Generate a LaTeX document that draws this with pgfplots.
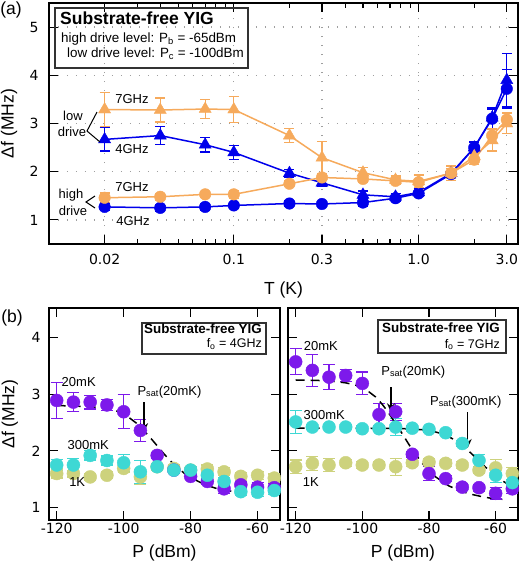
\documentclass[border=0pt]{standalone}
\usepackage{fontspec}
\setmainfont{Liberation Sans}
\newfontfamily\tickfont{DejaVu Sans}
\usepackage{pgfplots}
\pgfplotsset{compat=1.18}
\usetikzlibrary{arrows.meta}

\definecolor{cOrange}{RGB}{246,170,92}
\definecolor{cBlue}{RGB}{0,0,235}
\definecolor{cPurple}{RGB}{125,25,235}
\definecolor{cCyan}{RGB}{62,216,212}
\definecolor{cOlive}{RGB}{205,210,125}
\definecolor{cBox}{RGB}{50,50,50}

\newcommand{\fs}[1]{\fontsize{#1}{#1}\selectfont}

\pgfplotsset{
  panel/.style={
    scale only axis,
    axis line style={line width=2pt},
    tick align=inside,
    every tick/.style={line width=1.1pt, black},
    major tick length=9pt,
    minor tick length=5pt,
    tick label style={font=\tickfont\fs{14}},
    /pgf/number format/assume math mode=true,
    label style={font=\fs{17.5}},
    clip=false,
  },
  series/.style n args={4}{
    color=#1, mark=#2, line width=1.5pt,
    mark size=#3,
    mark options={solid, fill=#1, draw=#1, line width=0.4pt},
    error bars/y dir=both, error bars/y explicit,
    error bars/error bar style={line width=1.2pt, color=#1},
    error bars/error mark options={rotate=90, line width=1.2pt, mark size=#4, color=#1},
  },
  fitline/.style={black, line width=1.5pt, dash pattern=on 9pt off 6pt, no marks},
}
\tikzset{note/.style={font=\fs{13}, inner sep=0pt}}

\begin{document}
\begin{tikzpicture}
\useasboundingbox (0pt,0pt) rectangle (520pt,-571pt);

% ---------------- (a) linewidth versus temperature ----------------
\begin{axis}[panel,
  at={(49pt,-244pt)}, anchor=south west,
  width=469pt, height=241pt,
  xmode=log, xmin=0.01, xmax=3.45, ymin=0.5, ymax=5.5,
  xtick={0.02,0.1,0.3,1,3}, xticklabels={0.02,0.1,0.3,1.0,3.0},
  minor xtick={0.03,0.04,0.05,0.06,0.07,0.08,0.09,0.2,0.4,0.5,0.6,0.7,0.8,0.9,2},
  ytick={1,2,3,4,5},
  xticklabel style={yshift=-7pt},
  yticklabel style={xshift=-7pt},
  xmajorgrids, ymajorgrids,
  grid style={dash pattern=on 1.5pt off 7.5pt, line width=1.3pt, gray!75},
  xlabel={T (K)}, ylabel={Δf (MHz)},
  x label style={at={(axis description cs:0.5,-0.19)}, anchor=center},
  y label style={at={(axis description cs:-0.085,0.5)}, anchor=center},
]
% 4 GHz, low drive
\addplot[series={cBlue}{triangle*}{7pt}{5pt}] table[x index=0, y index=1, y error index=2] {
T v e
0.02 2.67 0.24
0.04 2.75 0.18
0.07 2.56 0.15
0.1 2.40 0.15
0.2 1.97 0.08
0.3 1.77 0.08
0.5 1.52 0.08
0.75 1.48 0.06
1.0 1.57 0.08
1.5 1.97 0.10
2.0 2.50 0.12
2.5 3.12 0.22
3.0 3.90 0.55
};
% 4 GHz, high drive
\addplot[series={cBlue}{*}{5.8pt}{5pt}] table[x index=0, y index=1, y error index=2] {
T v e
0.02 1.27 0.07
0.04 1.25 0.07
0.07 1.27 0.07
0.1 1.30 0.06
0.2 1.34 0.06
0.3 1.33 0.06
0.5 1.36 0.07
0.75 1.45 0.06
1.0 1.55 0.06
1.5 1.95 0.08
2.0 2.50 0.10
2.5 3.10 0.20
3.0 3.72 0.40
};
% 7 GHz, low drive
\addplot[series={cOrange}{triangle*}{7pt}{5pt}] table[x index=0, y index=1, y error index=2] {
T v e
0.02 3.29 0.36
0.04 3.28 0.25
0.07 3.30 0.20
0.1 3.29 0.27
0.2 2.75 0.15
0.3 2.29 0.33
0.5 1.98 0.10
0.75 1.83 0.08
1.0 1.80 0.12
1.5 1.97 0.15
2.0 2.32 0.12
2.5 2.65 0.22
3.0 3.00 0.20
};
% 7 GHz, high drive
\addplot[series={cOrange}{*}{5.8pt}{5pt}] table[x index=0, y index=1, y error index=2] {
T v e
0.02 1.46 0.10
0.04 1.48 0.07
0.07 1.53 0.06
0.1 1.53 0.08
0.2 1.75 0.06
0.3 1.88 0.07
0.5 1.85 0.08
0.75 1.81 0.07
1.0 1.78 0.15
1.5 1.97 0.10
2.0 2.25 0.10
2.5 2.75 0.15
3.0 3.08 0.15
};
\end{axis}

% legend box and curve labels of (a)
\draw[cBox, line width=2pt] (55pt,-8pt) rectangle (248pt,-68pt);
\node[anchor=base west, inner sep=0pt, font=\bfseries\fs{17.5}] at (60pt,-24.5pt) {Substrate-free YIG};
\node[anchor=base west, inner sep=0pt, font=\fs{13.4}] at (61pt,-42pt) {high drive level: P\textsubscript{b} = -65dBm};
\node[anchor=base west, inner sep=0pt, font=\fs{13.4}] at (67pt,-57.5pt) {low drive level: P\textsubscript{c} = -100dBm};

\node[note, anchor=base] at (132pt,-103.3pt) {7GHz};
\node[note, anchor=base] at (73pt,-120pt) {low};
\node[note, anchor=base] at (72pt,-136.7pt) {drive};
\draw[line width=1pt] (97pt,-112pt) -- (87pt,-131pt) -- (100pt,-142pt);
\node[note, anchor=base] at (132pt,-153.3pt) {4GHz};
\node[note, anchor=base] at (132pt,-191.7pt) {7GHz};
\node[note, anchor=base] at (71pt,-198.5pt) {high};
\node[note, anchor=base] at (73pt,-215pt) {drive};
\draw[line width=1pt] (95pt,-196pt) -- (86pt,-202pt) -- (95pt,-208pt);
\node[note, anchor=base] at (133pt,-225pt) {4GHz};

\node[font=\fs{17.5}, inner sep=0pt] at (11pt,-10pt) {(a)};
\node[font=\fs{17.5}, inner sep=0pt] at (12pt,-318pt) {(b)};

% ---------------- (b) left: 4 GHz ----------------
\begin{axis}[panel,
  at={(49pt,-520pt)}, anchor=south west,
  width=231pt, height=212pt,
  xmin=-122.3, xmax=-53.3, ymin=0.78, ymax=4.52,
  xtick={-120,-100,-80,-60}, xticklabels={-120,-100,-80,-60},
  ytick={1,2,3,4},
  yticklabel style={xshift=-5pt},
  xlabel={P (dBm)}, ylabel={Δf (MHz)},
  x label style={at={(axis description cs:0.5,-0.156)}, anchor=center},
  y label style={at={(axis description cs:-0.169,0.5)}, anchor=center},
]
% 1 K
\addplot[series={cOlive}{*}{6.5pt}{6pt}, only marks] table[x index=0, y index=1, y error index=2] {
P v e
-120 1.60 0.08
-115 1.60 0.06
-110 1.54 0.06
-105 1.57 0.06
-100 1.69 0.07
-95 1.54 0.13
-90 1.72 0.06
-85 1.69 0.06
-80 1.66 0.06
-75 1.68 0.07
-70 1.63 0.07
-65 1.55 0.07
-60 1.57 0.07
-55 1.52 0.07
};
% 20 mK
\addplot[series={cPurple}{*}{6.5pt}{6pt}, only marks] table[x index=0, y index=1, y error index=2] {
P v e
-120 2.89 0.32
-115 2.86 0.17
-110 2.86 0.12
-105 2.81 0.10
-100 2.69 0.30
-95 2.36 0.20
-90 1.92 0.05
-85 1.66 0.05
-80 1.55 0.05
-75 1.46 0.05
-70 1.33 0.08
-65 1.40 0.06
-60 1.36 0.08
-55 1.35 0.08
};
% 300 mK
\addplot[series={cCyan}{*}{6.5pt}{6pt}, only marks] table[x index=0, y index=1, y error index=2] {
P v e
-120 1.75 0.10
-115 1.75 0.12
-110 1.92 0.08
-105 1.83 0.08
-100 1.79 0.15
-95 1.63 0.20
-90 1.72 0.05
-85 1.66 0.05
-80 1.66 0.07
-75 1.57 0.07
-70 1.46 0.07
-65 1.28 0.07
-60 1.27 0.07
-55 1.30 0.07
};
% saturation fit, 20 mK
\addplot[fitline] coordinates {
(-120,2.80) (-115,2.79) (-110,2.78) (-105,2.75) (-102,2.70) (-100,2.65)
(-98,2.57) (-96,2.48) (-94,2.36) (-92,2.23) (-90,2.09) (-88,1.95)
(-86,1.82) (-84,1.71) (-82,1.61) (-80,1.53) (-78,1.47) (-76,1.41)
(-74,1.37) (-72,1.33) (-70,1.31) (-67,1.28) (-64,1.25) (-60,1.23)
};
\draw[-{Stealth[length=9pt,width=8pt]}, line width=1.5pt] (axis cs:-93.9,2.86) -- (axis cs:-93.9,2.33);
\end{axis}

\draw[cBox, line width=1.5pt] (142pt,-323pt) rectangle (266pt,-354pt);
\node[anchor=base east, inner sep=0pt, font=\bfseries\fs{13.4}] at (262pt,-333.5pt) {Substrate-free YIG};
\node[anchor=base east, inner sep=0pt, font=\fs{12.5}] at (262pt,-347.5pt) {f\textsubscript{o} = 4GHz};
\node[note, anchor=base] at (78.7pt,-386pt) {20mK};
\node[note, anchor=base] at (169.5pt,-395pt) {P\textsubscript{sat}(20mK)};
\node[note, anchor=base] at (88.3pt,-449.3pt) {300mK};
\node[note, anchor=base] at (77.2pt,-486.7pt) {1K};

% ---------------- (b) right: 7 GHz ----------------
\begin{axis}[panel,
  at={(288pt,-520pt)}, anchor=south west,
  width=230pt, height=212pt,
  xmin=-122.3, xmax=-53.3, ymin=0.78, ymax=4.52,
  xtick={-120,-100,-80,-60}, xticklabels={-120,-100,-80,-60},
  ytick={1,2,3,4}, yticklabels={},
  xlabel={P (dBm)},
  x label style={at={(axis description cs:0.5,-0.156)}, anchor=center},
]
% 1 K
\addplot[series={cOlive}{*}{6.5pt}{6pt}, only marks] table[x index=0, y index=1, y error index=2] {
P v e
-120 1.72 0.12
-115 1.78 0.12
-110 1.75 0.12
-105 1.79 0.06
-100 1.75 0.06
-95 1.75 0.06
-90 1.72 0.15
-85 1.79 0.06
-80 1.80 0.06
-75 1.78 0.06
-70 1.75 0.06
-65 1.66 0.06
-60 1.70 0.15
-55 1.60 0.10
};
% 20 mK
\addplot[series={cPurple}{*}{6.5pt}{6pt}, only marks] table[x index=0, y index=1, y error index=2] {
P v e
-120 3.57 0.23
-115 3.42 0.28
-110 3.30 0.22
-105 3.33 0.10
-100 3.19 0.20
-95 2.64 0.20
-90 2.69 0.15
-85 1.94 0.05
-80 1.60 0.12
-75 1.51 0.05
-70 1.36 0.06
-65 1.35 0.06
-60 1.25 0.10
-55 1.33 0.08
};
% 300 mK
\addplot[series={cCyan}{*}{6.5pt}{6pt}, only marks] table[x index=0, y index=1, y error index=2] {
P v e
-120 2.51 0.20
-115 2.42 0.05
-110 2.42 0.05
-105 2.42 0.05
-100 2.39 0.05
-95 2.39 0.05
-90 2.42 0.15
-85 2.40 0.05
-80 2.38 0.05
-75 2.32 0.05
-70 2.13 0.05
-65 1.83 0.10
-60 1.57 0.13
-55 1.44 0.05
};
% saturation fit, 20 mK
\addplot[fitline] coordinates {
(-120,3.25) (-115,3.245) (-110,3.235) (-105,3.20) (-102,3.16) (-100,3.11)
(-98,3.04) (-96,2.95) (-94,2.82) (-92,2.66) (-90,2.48) (-88,2.30)
(-86,2.11) (-84,1.94) (-82,1.78) (-80,1.65) (-78,1.54) (-76,1.46)
(-74,1.38) (-72,1.33) (-70,1.28) (-67,1.23) (-64,1.19) (-61,1.16) (-58,1.145)
};
% saturation fit, 300 mK
\addplot[fitline] coordinates {
(-120,2.40) (-110,2.40) (-100,2.40) (-90,2.395) (-85,2.386) (-82,2.372)
(-80,2.356) (-78,2.333) (-76,2.298) (-74,2.248) (-72,2.181) (-70,2.095)
(-68,1.993) (-66,1.88) (-64,1.765) (-62,1.656) (-60,1.557) (-58,1.472) (-56,1.40)
};
\draw[-{Stealth[length=9pt,width=8pt]}, line width=1.5pt] (axis cs:-91.4,3.12) -- (axis cs:-91.4,2.68);
\draw[-{Stealth[length=9pt,width=8pt]}, line width=1.5pt] (axis cs:-68.4,2.68) -- (axis cs:-68.4,2.05);
\end{axis}

\draw[cBox, line width=1.5pt] (378pt,-320pt) rectangle (506pt,-353pt);
\node[anchor=base east, inner sep=0pt, font=\bfseries\fs{13.4}] at (500pt,-332pt) {Substrate-free YIG};
\node[anchor=base east, inner sep=0pt, font=\fs{12.5}] at (500pt,-348pt) {f\textsubscript{o} = 7GHz};
\node[note, anchor=base] at (320.8pt,-350.7pt) {20mK};
\node[note, anchor=base] at (413.3pt,-375pt) {P\textsubscript{sat}(20mK)};
\node[note, anchor=base] at (465.8pt,-405pt) {P\textsubscript{sat}(300mK)};
\node[note, anchor=base] at (324.2pt,-419.3pt) {300mK};
\node[note, anchor=base] at (310.8pt,-486.7pt) {1K};
\end{tikzpicture}
\end{document}
